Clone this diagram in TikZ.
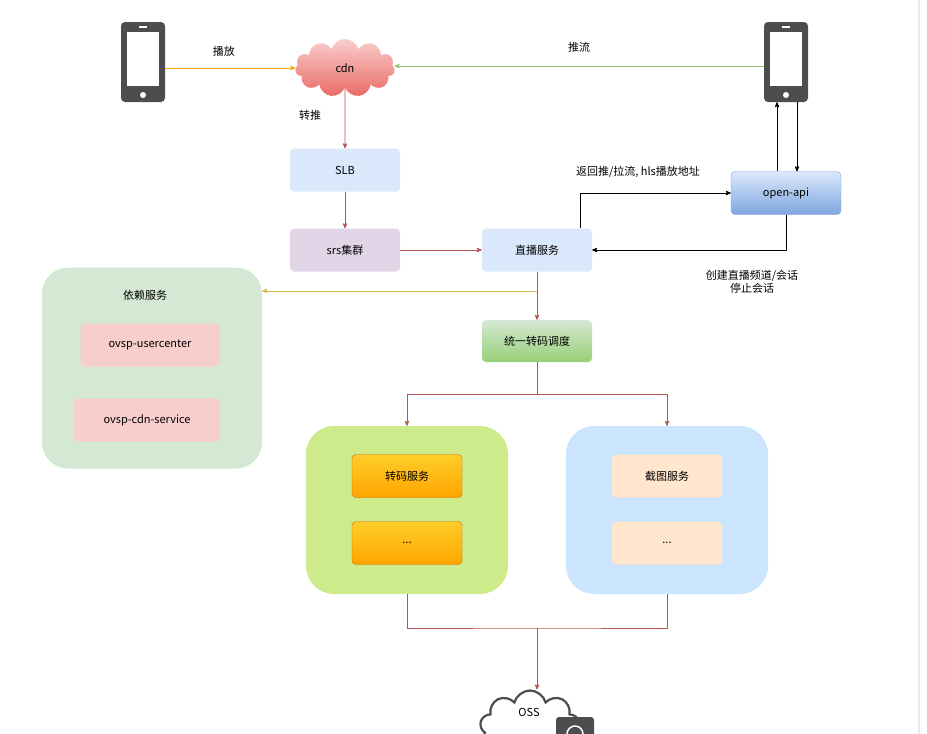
\documentclass[tikz,border=0pt]{standalone}
\usepackage{fontspec}
\setmainfont{Noto Sans CJK SC}
\usetikzlibrary{shapes,arrows,positioning}
\definecolor{redln}{HTML}{B85450}
\definecolor{yelln}{HTML}{D6B656}
\definecolor{grnln}{HTML}{97C076}
\definecolor{phn}{HTML}{4D4D4D}
\definecolor{lblue}{HTML}{DAE8FC}
\definecolor{dblue}{HTML}{7EA6E0}
\definecolor{lpurp}{HTML}{E1D5E7}
\definecolor{lgrn}{HTML}{D5E8D4}
\definecolor{dgrn}{HTML}{97D077}
\definecolor{lime}{HTML}{CDEB8B}
\definecolor{sky}{HTML}{CCE5FF}
\definecolor{lred}{HTML}{F8CECC}
\definecolor{dred}{HTML}{EA6B66}
\definecolor{lorg}{HTML}{FFE6CC}
\definecolor{yorg}{HTML}{FFCD28}
\definecolor{dorg}{HTML}{FFA500}
\tikzstyle{box} = [rounded corners=4pt, minimum width=110pt, minimum height=43pt, font=\fontsize{11}{13}\selectfont]
\tikzstyle{grp} = [rounded corners=28pt, minimum width=202pt, minimum height=168pt]
\tikzstyle{lbl} = [font=\fontsize{11}{13}\selectfont, align=center]
\tikzstyle{rline} = [draw=redln, line width=0.8pt]
\newcommand{\phonedraw}[2]{%
  \fill[phn, rounded corners=4pt] (#1-22,#2-40) rectangle (#1+22,#2+40);
  \fill[white] (#1-16,#2-30) rectangle (#1+16,#2+24);
  \fill[white] (#1,#2+33) circle (3pt);
  \draw[white, line width=1.2pt] (#1-4,#2-35) -- (#1+4,#2-35);}

\begin{document}
\begin{tikzpicture}[x=1pt,y=-1pt,>=stealth',auto]
\useasboundingbox (0,0) rectangle (927,734);
\draw[black!8, line width=2pt] (919,0) -- (919,734);

% phones
\node[minimum width=44pt, minimum height=80pt] (p1) at (143,62) {};
\node[minimum width=44pt, minimum height=80pt] (p2) at (786,62) {};
\phonedraw{143}{62}
\phonedraw{786}{62}

% clouds
\node[cloud, cloud puffs=11, aspect=2, minimum width=100pt, minimum height=58pt, top color=lred, bottom color=dred, draw=none, font=\fontsize{11}{13}\selectfont] (cdn) at (345,68) {cdn};
\node[cloud, cloud puffs=9, aspect=1.6, minimum width=100pt, minimum height=75pt, draw=phn, line width=2.2pt] (oss) at (530,728) {};
\node[lbl] at (529,712) {OSS};
\fill[phn, rounded corners=3pt] (556,717) rectangle (594,745);
\draw[white, line width=1.5pt] (575,734) circle (8pt);

% boxes
\node[box, fill=lblue] (slb) at (345,170) {SLB};
\node[box, fill=lpurp] (srs) at (345,250) {srs集群};
\node[box, fill=lblue] (live) at (537,250) {直播服务};
\node[box, top color=lblue, bottom color=dblue, draw=dblue] (api) at (786,193) {open-api};
\node[box, top color=lgrn, bottom color=dgrn, minimum height=42pt] (sched) at (537,341) {统一转码调度};

% dependency group
\node[rounded corners=26pt, minimum width=220pt, minimum height=201pt, fill=lgrn] (dep) at (152,368) {};
\node[lbl] at (145,295) {依赖服务};
\node[box, fill=lred, minimum width=139pt] (uc) at (150,345) {ovsp-usercenter};
\node[box, fill=lred, minimum width=146pt] (cs) at (147,420) {ovsp-cdn-service};

% transcode and snapshot groups
\node[grp, fill=lime] (tg) at (407,510) {};
\node[box, top color=yorg, bottom color=dorg, draw=orange!80!black] (t1) at (407,476) {转码服务};
\node[box, top color=yorg, bottom color=dorg, draw=orange!80!black] (t2) at (407,543) {...};
\node[grp, fill=sky] (sg) at (667,510) {};
\node[box, fill=lorg] (s1) at (667,476) {截图服务};
\node[box, fill=lorg] (s2) at (667,543) {...};

% connectors
\draw[->, draw=orange!70!yellow, line width=0.8pt] (p1.east |- 0,68) -- (cdn.west |- 0,68) node[pos=0.45, above=8pt, lbl, text=black] {播放};
\draw[->, draw=grnln, line width=0.8pt] (p2.west |- 0,66) -- (cdn.east |- 0,66) node[midway, above=10pt, lbl, text=black] {推流};
\draw[->, rline] (cdn) -- (slb);
\node[lbl] at (310,115) {转推};
\draw[->, rline] (slb) -- (srs);
\draw[->, rline] (srs) -- (live);
\draw[->, draw=black, line width=0.8pt] (live.north -| 580,0) |- (api.west);
\node[lbl] at (638,172) {返回推/拉流, hls播放地址};
\draw[->, draw=black, line width=0.8pt] (api.south) |- (live.east);
\node[lbl] at (752,282) {创建直播频道/会话\\停止会话};
\draw[->, draw=black, line width=0.8pt] (api.north -| 777,0) -- (p2.south -| 777,0);
\draw[->, draw=black, line width=0.8pt] (p2.south -| 797,0) -- (api.north -| 797,0);
\draw[->, draw=yelln, line width=0.8pt] (live.south) -- (537,291) -- (dep.east |- 0,291);
\draw[->, rline] (live.south) -- (sched.north);
\draw[->, rline] (sched.south) -- (537,394) -| (tg.north);
\draw[->, rline] (537,394) -| (sg.north);
\draw[rline] (tg.south) |- (537,628) -| (sg.south);
\draw[->, rline] (537,628) -- (oss.north -| 537,0);
\end{tikzpicture}
\end{document}
